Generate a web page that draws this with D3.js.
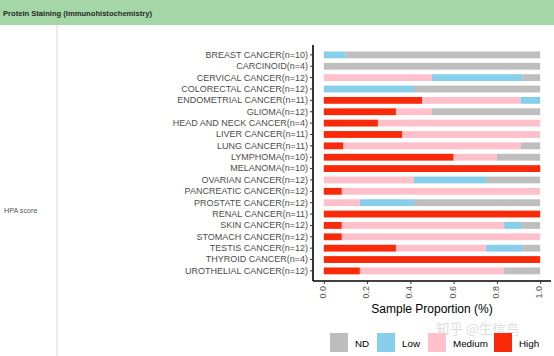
<!DOCTYPE html>
<html><head><meta charset="utf-8">
<script src="https://cdn.jsdelivr.net/npm/d3@7"></script>
<style>body{margin:0;background:#fff}svg{display:block;font-family:"Liberation Sans",Arial,sans-serif}</style>
</head><body>
<script>
const categories = ["BREAST CANCER","CARCINOID","CERVICAL CANCER","COLORECTAL CANCER","ENDOMETRIAL CANCER","GLIOMA","HEAD AND NECK CANCER","LIVER CANCER","LUNG CANCER","LYMPHOMA","MELANOMA","OVARIAN CANCER","PANCREATIC CANCER","PROSTATE CANCER","RENAL CANCER","SKIN CANCER","STOMACH CANCER","TESTIS CANCER","THYROID CANCER","UROTHELIAL CANCER"];
const sampleN  = [10,4,12,12,11,12,4,11,11,10,10,12,12,12,11,12,12,12,4,12];
const highN    = [0,0,0,0,5,4,1,4,1,6,10,0,1,0,11,1,1,4,4,2];
const mediumN  = [0,0,6,0,5,2,3,7,9,2,0,5,11,2,0,9,11,5,0,8];
const lowN     = [1,0,5,5,1,0,0,0,0,0,0,4,0,3,0,1,0,2,0,0];
const ndN      = [9,4,1,7,0,6,0,0,1,2,0,3,0,7,0,1,0,1,0,2];
const seriesNames = ["High","Medium","Low","ND"];
const legendOrder = ["ND","Low","Medium","High"];
const colors = {ND:"#bebebe", Low:"#87ceeb", Medium:"#ffc0cb", High:"#f82a0a"};
const xTicks = [0,0.2,0.4,0.6,0.8,1.0];

const W=554,H=356;
const svg=d3.select("body").append("svg").attr("width",W).attr("height",H);

// header
svg.append("rect").attr("x",0).attr("y",0).attr("width",W).attr("height",25).attr("fill","#a5d6a7");
svg.append("text").attr("x",3).attr("y",16).attr("font-size",7.6).attr("font-weight","bold").attr("fill","#1f2d1f")
  .text("Protein Staining (Immunohistochemistry)");
svg.append("rect").attr("x",56).attr("y",25).attr("width",2).attr("height",H-25).attr("fill","#ebebeb");
svg.append("text").attr("x",4).attr("y",213).attr("font-size",7.2).attr("fill","#555").text("HPA score");

const data = categories.map((c,i)=>({cat:c, label:`${c}(n=${sampleN[i]})`,
  High:highN[i]/sampleN[i], Medium:mediumN[i]/sampleN[i], Low:lowN[i]/sampleN[i], ND:ndN[i]/sampleN[i]}));

const x = d3.scaleLinear().domain([-0.05,1.05]).range([313,551]);
const y = d3.scaleBand().domain(data.map(d=>d.label)).range([45.8,280]).paddingInner(0.4).paddingOuter(0.5);

const stack = d3.stack().keys(seriesNames)(data);
svg.append("g").selectAll("g").data(stack).join("g").attr("fill",s=>colors[s.key])
  .selectAll("rect").data(s=>s).join("rect")
  .attr("x",d=>x(d[0])).attr("width",d=>Math.max(0,x(d[1])-x(d[0])))
  .attr("y",d=>y(d.data.label)).attr("height",y.bandwidth());

// axes
const ya = svg.append("g").attr("transform","translate(313,0)")
  .call(d3.axisLeft(y).tickSize(3).tickPadding(2));
ya.select(".domain").attr("stroke","#000").attr("stroke-width",1.6).attr("d","M0,45V281");
ya.selectAll(".tick line").attr("stroke","#333");
ya.selectAll("text").attr("font-size",9).attr("fill","#4d4d4d").attr("font-family","Liberation Sans, Arial, sans-serif");

const xa = svg.append("g").attr("transform","translate(0,281)")
  .call(d3.axisBottom(x).tickValues(xTicks).tickFormat(d3.format(".1f")).tickSize(3));
xa.select(".domain").attr("stroke","#000").attr("stroke-width",1.6).attr("d","M313,0H551");
xa.selectAll(".tick line").attr("stroke","#333");
xa.selectAll("text").attr("font-size",9).attr("fill","#4d4d4d").attr("font-family","Liberation Sans, Arial, sans-serif")
  .attr("transform","rotate(-90)").attr("text-anchor","end").attr("dx","-5").attr("dy","-0.1em").attr("y",0).attr("x",0)
  .attr("dominant-baseline","middle");

svg.append("text").attr("x",432).attr("y",313).attr("text-anchor","middle").attr("font-size",12).attr("fill","#000")
  .text("Sample Proportion (%)");

// watermark
svg.append("text").attr("x",436).attr("y",334).attr("font-size",13.5).attr("fill","#dadada").attr("opacity",0.9)
  .attr("font-family","Noto Sans CJK SC, sans-serif").text("知乎 @生信鸟");

// legend
const lx = {ND:330, Low:377, Medium:428, High:494};
legendOrder.forEach(k=>{
  svg.append("rect").attr("x",lx[k]).attr("y",333).attr("width",18).attr("height",19).attr("fill",colors[k]);
  svg.append("text").attr("x",lx[k]+25).attr("y",347).attr("font-size",9.8).attr("fill","#000").text(k);
});
</script>
</body></html>
